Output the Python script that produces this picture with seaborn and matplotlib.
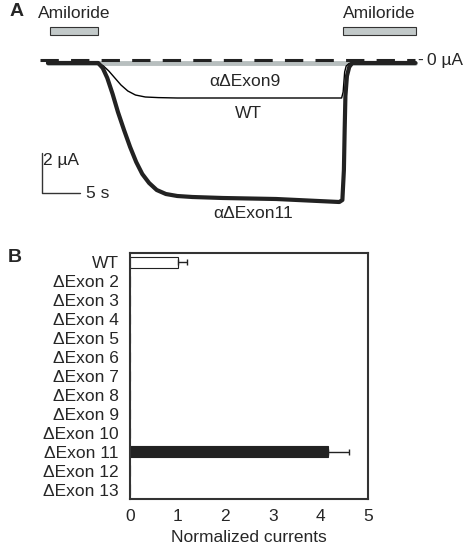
import numpy as np
import pandas as pd
import matplotlib.pyplot as plt
import seaborn as sns

sns.set_style('white')
plt.rcParams['font.family'] = ['Liberation Sans', 'DejaVu Sans']

# Panel A traces (time in s, current in µA)
t_exon11 = [0, 6.6, 7.2, 7.8, 8.5, 9.2, 10.0, 10.8, 11.6, 12.4, 13.3, 14.3, 15.5, 17.0, 19.0,
            23.0, 30.0, 38.3, 38.7, 38.9, 39.0, 39.1, 39.3, 39.6, 40.0, 48.3]
i_exon11 = [-0.15, -0.15, -0.4, -0.9, -1.7, -2.6, -3.5, -4.35, -5.1, -5.7, -6.15, -6.5, -6.7,
            -6.8, -6.85, -6.9, -6.95, -7.1, -7.0, -5.5, -3.5, -1.8, -0.8, -0.35, -0.15, -0.15]
t_wt = [0, 6.6, 7.3, 8.0, 8.8, 9.6, 10.5, 11.5, 12.8, 14.5, 17.0, 25.0, 38.6, 38.8, 38.9,
        39.0, 39.2, 39.6, 40.0, 48.3]
i_wt = [-0.15, -0.15, -0.3, -0.55, -0.9, -1.25, -1.55, -1.75, -1.85, -1.88, -1.9, -1.9, -1.9,
        -1.6, -1.1, -0.6, -0.3, -0.17, -0.15, -0.15]
t_exon9 = [0, 48.3]
i_exon9 = [-0.15, -0.15]

# Panel B
categories = ['WT', 'ΔExon 2', 'ΔExon 3', 'ΔExon 4', 'ΔExon 5', 'ΔExon 6', 'ΔExon 7',
              'ΔExon 8', 'ΔExon 9', 'ΔExon 10', 'ΔExon 11', 'ΔExon 12', 'ΔExon 13']
values = [1.0, 0.01, 0.01, 0.01, 0.01, 0.01, 0.01, 0.01, 0.01, 0.01, 4.17, 0.01, 0.01]
errors = [0.2, 0, 0, 0, 0, 0, 0, 0, 0, 0, 0.43, 0, 0]

fig = plt.figure(figsize=(4.74, 5.57), dpi=100)
fs = 12.5

# ---- Panel A ----
axA = fig.add_axes([0, 1 - 235 / 557, 1, 235 / 557])
axA.set_xlim(-6.3, 56)
axA.set_ylim(-8.75, 3.0)
axA.axis('off')
sns.lineplot(x=t_exon9, y=i_exon9, ax=axA, color='#b8bfbf', lw=3.5)
sns.lineplot(x=t_wt, y=i_wt, ax=axA, color='black', lw=1.0)
sns.lineplot(x=t_exon11, y=i_exon11, ax=axA, color='#222222', lw=3.0)
axA.plot([-1, 48.3], [0, 0], color='#222222', lw=2.2, dashes=(6, 4))
axA.text(48.6, 0, '-', va='center', ha='left', fontsize=fs)
axA.text(49.8, 0, '0 µA', va='center', ha='left', fontsize=fs)
for x0, x1 in [(0.26, 6.6), (38.8, 48.4)]:
    axA.add_patch(plt.Rectangle((x0, 1.25), x1 - x0, 0.4, facecolor='#c2c9c9',
                                edgecolor='#333333', lw=0.8))
    axA.text((x0 + x1) / 2, 2.35, 'Amiloride', ha='center', va='center', fontsize=fs)
axA.text(25.9, -1.05, 'αΔExon9', ha='center', va='center', fontsize=fs)
axA.text(26.4, -2.65, 'WT', ha='center', va='center', fontsize=fs)
axA.text(27.0, -7.65, 'αΔExon11', ha='center', va='center', fontsize=fs)
# scale bars
axA.plot([-0.8, -0.8, 4.2], [-4.65, -6.65, -6.65], color='#333333', lw=1.0)
axA.text(-0.6, -5.0, '2 µA', ha='left', va='center', fontsize=fs)
axA.text(6.6, -6.65, '5 s', ha='center', va='center', fontsize=fs)
fig.text(10 / 474, 1 - 12 / 557, 'A', fontsize=14, fontweight='bold', va='center')

# ---- Panel B ----
axB = fig.add_axes([130 / 474, 1 - 499 / 557, 238 / 474, 246 / 557])
df = pd.DataFrame({'cat': categories, 'val': values, 'err': errors})
colors = ['white'] * 10 + ['#222222'] + ['white'] * 2
sns.barplot(data=df, x='val', y='cat', hue='cat', palette=colors, legend=False,
            orient='h', width=0.55, edgecolor='#222222', linewidth=0.8, ax=axB)
for k, (v, e) in enumerate(zip(values, errors)):
    if e > 0:
        axB.errorbar(v, k, xerr=[[0], [e]], color='#222222', lw=1.0, capsize=2)
axB.set_xlim(0, 5)
axB.set_ylim(12.5, -0.5)
axB.set_xticks(range(6))
axB.set_yticks(range(len(categories)))
axB.set_yticklabels(categories)
axB.set_yticks(np.arange(0.5, 12.5, 1), minor=True)
axB.tick_params(axis='y', which='major', length=0, labelsize=fs, pad=8)
axB.tick_params(axis='y', which='minor', length=4, width=1.2, direction='out')
axB.tick_params(axis='x', length=4, width=1.2, labelsize=fs, direction='out')
axB.set_xlabel('Normalized currents', fontsize=fs)
axB.set_ylabel('')
for s in axB.spines.values():
    s.set_linewidth(1.5)
    s.set_color('#333333')
fig.text(8 / 474, 1 - 258 / 557, 'B', fontsize=14, fontweight='bold', va='center')

fig.savefig('out.png', dpi=100)
